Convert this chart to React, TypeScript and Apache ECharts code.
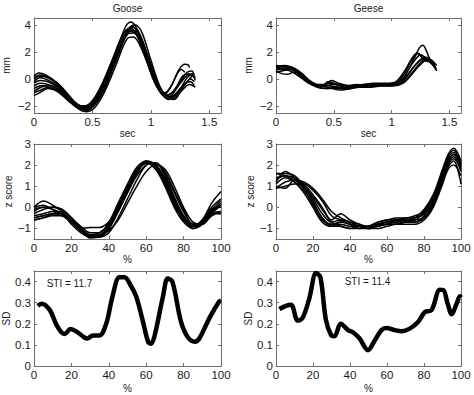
import React, { useEffect, useRef } from "react";
import * as echarts from "echarts";

// ---- Top-left: Goose, mm vs sec ----
const gooseMm1 = [[0,0.2],[0.04,0.45],[0.1,0.3],[0.2,-0.3],[0.3,-1.3],[0.38,-2.0],[0.45,-2.1],[0.52,-1.6],[0.6,-0.2],[0.7,1.9],[0.78,3.8],[0.83,4.2],[0.88,3.7],[0.95,2.0],[1.02,0.2],[1.08,-0.8],[1.12,-1.0],[1.18,-0.4],[1.24,0.7],[1.29,1.1],[1.32,1.05],[1.33,0.85]];
const gooseMm2 = [[0,-0.2],[0.05,0.1],[0.1,0.0],[0.2,-0.5],[0.3,-1.4],[0.4,-2.2],[0.46,-2.3],[0.52,-1.8],[0.6,-0.5],[0.7,1.5],[0.8,3.6],[0.84,3.9],[0.9,3.2],[0.98,1.2],[1.05,-0.4],[1.12,-1.2],[1.18,-1.0],[1.25,-0.2],[1.31,0.5],[1.35,0.6],[1.37,0.3]];
const gooseMm3 = [[0,-0.5],[0.05,-0.3],[0.12,-0.4],[0.2,-0.7],[0.3,-1.5],[0.4,-2.1],[0.45,-2.2],[0.5,-2.0],[0.58,-1.0],[0.68,1.0],[0.78,3.1],[0.83,3.5],[0.88,3.2],[0.96,1.6],[1.04,-0.2],[1.1,-1.1],[1.16,-1.3],[1.22,-0.7],[1.3,0.2],[1.35,0.4],[1.38,0.1]];
const gooseMm4 = [[0,-1.2],[0.05,-1.0],[0.12,-0.7],[0.2,-0.9],[0.3,-1.6],[0.4,-2.3],[0.45,-2.4],[0.52,-2.1],[0.6,-1.0],[0.7,1.0],[0.8,3.0],[0.85,3.1],[0.9,2.6],[1.0,0.6],[1.08,-0.9],[1.15,-1.5],[1.2,-1.4],[1.27,-0.8],[1.33,-0.4],[1.36,-0.5],[1.38,-0.6]];
const gooseMm5 = [[0,-0.9],[0.06,-0.6],[0.12,-0.5],[0.2,-0.8],[0.3,-1.5],[0.38,-2.0],[0.44,-2.0],[0.5,-1.7],[0.6,-0.3],[0.7,1.7],[0.8,3.6],[0.85,3.8],[0.9,3.4],[0.98,1.6],[1.06,-0.4],[1.12,-1.2],[1.17,-1.4],[1.23,-1.0],[1.3,-0.3],[1.34,-0.2],[1.37,-0.5]];
const gooseMm6 = [[0,0.0],[0.05,0.2],[0.12,0.1],[0.2,-0.3],[0.28,-1.0],[0.36,-1.8],[0.42,-2.0],[0.48,-1.8],[0.56,-0.8],[0.66,1.2],[0.76,3.3],[0.82,3.7],[0.87,3.4],[0.94,2.0],[1.02,0.0],[1.08,-0.9],[1.12,-1.1],[1.17,-0.6],[1.22,0.3],[1.26,0.7],[1.29,0.5]];
const gooseMm7 = [[0,-0.7],[0.06,-0.5],[0.14,-0.5],[0.22,-1.0],[0.32,-1.8],[0.4,-2.2],[0.46,-2.2],[0.52,-1.9],[0.6,-0.8],[0.7,1.3],[0.8,3.3],[0.85,3.4],[0.9,3.0],[0.98,1.0],[1.06,-0.7],[1.13,-1.4],[1.2,-1.5],[1.26,-0.8],[1.32,-0.1],[1.36,0.2],[1.38,-0.1]];
const gooseMm8 = [[0,-0.3],[0.05,-0.1],[0.12,-0.2],[0.2,-0.6],[0.3,-1.4],[0.38,-1.9],[0.44,-2.0],[0.5,-1.6],[0.58,-0.4],[0.68,1.6],[0.78,3.5],[0.82,3.7],[0.88,3.3],[0.96,1.4],[1.04,-0.4],[1.1,-1.1],[1.15,-1.2],[1.21,-0.7],[1.27,0.2],[1.32,0.4],[1.35,0.2]];
const gooseMm9 = [[0,-1.0],[0.06,-0.8],[0.12,-0.6],[0.2,-0.9],[0.3,-1.6],[0.38,-2.1],[0.44,-2.3],[0.5,-2.0],[0.58,-0.9],[0.68,1.1],[0.78,3.2],[0.84,3.6],[0.9,3.3],[0.98,1.5],[1.06,-0.3],[1.13,-1.2],[1.18,-1.3],[1.24,-0.8],[1.3,-0.3],[1.34,0.0],[1.37,-0.2]];
const gooseMm10 = [[0,0.1],[0.05,0.3],[0.1,0.2],[0.2,-0.4],[0.3,-1.3],[0.38,-1.9],[0.44,-2.1],[0.5,-1.9],[0.6,-0.6],[0.7,1.4],[0.8,3.5],[0.86,4.0],[0.92,3.5],[1.0,1.4],[1.08,-0.6],[1.14,-1.3],[1.2,-1.2],[1.26,-0.6],[1.31,0.1],[1.35,0.3],[1.37,0.1]];

// ---- Top-right: Geese, mm vs sec ----
const geeseMm1 = [[0,1.0],[0.1,0.9],[0.15,0.8],[0.2,0.5],[0.25,0.0],[0.3,-0.3],[0.4,-0.5],[0.45,-0.2],[0.5,-0.3],[0.6,-0.5],[0.7,-0.5],[0.8,-0.4],[0.9,-0.4],[1.0,-0.4],[1.08,-0.2],[1.14,0.6],[1.2,1.6],[1.24,2.3],[1.27,2.5],[1.3,2.1],[1.33,1.5],[1.36,1.3],[1.39,1.0]];
const geeseMm2 = [[0,0.8],[0.05,0.9],[0.12,0.9],[0.18,0.7],[0.24,0.3],[0.3,-0.2],[0.4,-0.5],[0.5,-0.4],[0.6,-0.6],[0.7,-0.6],[0.8,-0.5],[0.9,-0.4],[1.0,-0.3],[1.05,-0.1],[1.12,0.7],[1.18,1.6],[1.22,1.9],[1.25,1.7],[1.3,1.4],[1.35,1.2],[1.38,0.9]];
const geeseMm3 = [[0,0.6],[0.05,0.4],[0.1,0.35],[0.15,0.5],[0.2,0.4],[0.27,0.0],[0.35,-0.4],[0.45,-0.6],[0.55,-0.8],[0.65,-0.7],[0.75,-0.5],[0.85,-0.5],[0.95,-0.4],[1.05,-0.4],[1.12,0.1],[1.18,0.8],[1.24,1.3],[1.28,1.5],[1.31,1.4],[1.35,1.1],[1.39,0.7]];
const geeseMm4 = [[0,0.9],[0.08,1.0],[0.15,0.8],[0.22,0.3],[0.3,-0.3],[0.38,-0.6],[0.46,-0.3],[0.52,-0.4],[0.6,-0.5],[0.7,-0.4],[0.8,-0.5],[0.9,-0.5],[1.0,-0.5],[1.08,-0.3],[1.15,0.4],[1.21,1.1],[1.26,1.5],[1.3,1.6],[1.33,1.4],[1.37,1.0]];
const geeseMm5 = [[0,0.7],[0.06,0.8],[0.14,0.7],[0.2,0.3],[0.28,-0.2],[0.36,-0.5],[0.45,-0.5],[0.55,-0.6],[0.65,-0.5],[0.75,-0.4],[0.85,-0.3],[0.95,-0.3],[1.03,-0.3],[1.1,0.3],[1.16,1.2],[1.2,1.7],[1.23,1.9],[1.27,1.5],[1.31,1.3],[1.34,1.4],[1.37,1.0]];
const geeseMm6 = [[0,0.5],[0.05,0.6],[0.12,0.7],[0.2,0.4],[0.28,-0.2],[0.36,-0.6],[0.44,-0.7],[0.52,-0.6],[0.62,-0.7],[0.72,-0.6],[0.82,-0.6],[0.92,-0.5],[1.02,-0.5],[1.1,-0.3],[1.17,0.3],[1.23,0.9],[1.28,1.3],[1.32,1.4],[1.35,1.2],[1.38,0.8]];
const geeseMm7 = [[0,0.9],[0.07,0.9],[0.14,0.8],[0.2,0.5],[0.26,0.1],[0.34,-0.4],[0.42,-0.4],[0.48,-0.1],[0.54,-0.3],[0.64,-0.5],[0.74,-0.5],[0.84,-0.4],[0.94,-0.4],[1.04,-0.3],[1.1,0.1],[1.16,0.9],[1.21,1.5],[1.25,1.8],[1.29,1.6],[1.33,1.3],[1.36,1.1]];
const geeseMm8 = [[0,0.7],[0.06,0.7],[0.12,0.6],[0.2,0.2],[0.28,-0.3],[0.36,-0.6],[0.46,-0.7],[0.56,-0.7],[0.66,-0.6],[0.76,-0.6],[0.86,-0.5],[0.96,-0.5],[1.06,-0.4],[1.12,-0.1],[1.18,0.5],[1.24,1.1],[1.29,1.4],[1.32,1.3],[1.36,1.0],[1.39,0.6]];

// ---- Middle-left: Goose, z score vs % ----
const pctA = [0,5,10,15,20,25,30,35,40,45,50,55,60,65,70,75,80,85,90,95,100];
const gooseZ1 = [0.0,0.3,0.1,-0.2,-0.6,-1.0,-1.3,-1.3,-0.9,0.0,0.9,1.7,2.1,2.0,1.3,0.3,-0.5,-0.9,-0.6,0.2,0.75];
const gooseZ2 = [-0.5,-0.4,-0.3,-0.4,-0.7,-1.1,-1.4,-1.4,-1.0,-0.1,0.9,1.7,2.1,2.0,1.4,0.4,-0.4,-0.9,-0.7,-0.1,0.3];
const gooseZ3 = [-0.2,0.0,0.0,-0.1,-0.5,-0.9,-1.2,-1.2,-0.7,0.2,1.1,1.9,2.2,1.9,1.1,0.1,-0.6,-0.9,-0.6,0.0,0.4];
const gooseZ4 = [-0.6,-0.5,-0.4,-0.4,-0.8,-1.2,-1.4,-1.4,-1.2,-0.5,0.4,1.3,2.0,2.1,1.6,0.7,-0.2,-0.8,-0.8,-0.3,-0.2];
const gooseZ5 = [-0.3,-0.1,0.0,-0.1,-0.5,-1.0,-1.3,-1.2,-0.8,0.1,1.0,1.8,2.1,1.8,1.0,0.0,-0.7,-1.0,-0.7,-0.2,0.1];
const gooseZ6 = [-0.5,-0.4,-0.3,-0.3,-0.6,-1.0,-0.95,-0.95,-0.7,-0.1,0.7,1.5,2.0,2.1,1.7,0.8,-0.1,-0.8,-0.8,-0.3,-0.3];
const gooseZ7 = [0.0,0.1,-0.1,-0.3,-0.7,-1.1,-1.35,-1.3,-0.9,0.0,0.9,1.7,2.1,2.0,1.3,0.3,-0.5,-1.0,-0.8,-0.2,0.2];
const gooseZ8 = [-0.4,-0.3,-0.2,-0.3,-0.7,-1.1,-1.3,-1.3,-1.1,-0.6,0.2,1.0,1.7,2.0,1.8,1.0,0.0,-0.7,-0.8,-0.4,-0.2];
const gooseZ9 = [-0.1,0.0,-0.1,-0.3,-0.6,-1.0,-1.3,-1.3,-1.0,-0.2,0.7,1.6,2.1,2.1,1.5,0.5,-0.4,-0.9,-0.7,-0.1,0.0];
const gooseZ10 = [-0.6,-0.5,-0.3,-0.2,-0.5,-1.0,-1.45,-1.4,-1.0,-0.2,0.8,1.7,2.2,2.0,1.2,0.2,-0.6,-1.0,-0.8,-0.3,0.1];

// ---- Middle-right: Geese, z score vs % ----
const pctB = [0,5,10,15,20,25,30,35,40,45,50,55,60,65,70,75,80,85,90,93,96,100];
const geeseZ1 = [1.6,1.6,1.5,1.0,0.3,-0.5,-0.8,-0.8,-0.9,-0.9,-1.0,-0.8,-0.7,-0.6,-0.6,-0.5,-0.1,0.6,1.8,2.5,2.8,2.2];
const geeseZ2 = [1.2,1.7,1.4,0.9,0.1,-0.6,-0.8,-0.7,-0.8,-1.0,-1.0,-0.9,-0.8,-0.7,-0.7,-0.7,-0.4,0.3,1.5,2.3,2.6,2.0];
const geeseZ3 = [0.9,1.2,1.3,1.0,0.5,-0.1,-0.7,-0.9,-1.0,-0.9,-0.9,-0.8,-0.7,-0.6,-0.5,-0.5,-0.3,0.2,1.4,2.1,2.4,1.8];
const geeseZ4 = [1.0,0.9,1.3,1.2,0.9,0.4,-0.2,-0.5,-0.7,-0.9,-1.0,-0.9,-0.8,-0.8,-0.7,-0.6,-0.5,0.1,1.2,1.9,2.2,1.1];
const geeseZ5 = [1.3,1.5,1.4,1.1,0.6,0.0,-0.6,-0.3,-0.6,-0.8,-1.0,-0.8,-0.7,-0.7,-0.6,-0.6,-0.2,0.5,1.7,2.4,2.7,2.0];
const geeseZ6 = [1.1,1.4,1.2,0.8,0.2,-0.5,-0.9,-0.9,-1.0,-1.0,-0.9,-0.7,-0.6,-0.5,-0.5,-0.4,-0.2,0.4,1.6,2.2,2.5,2.1];
const geeseZ7 = [1.4,1.5,1.2,0.7,0.0,-0.7,-0.9,-0.7,-0.8,-0.9,-0.9,-0.8,-0.8,-0.8,-0.7,-0.7,-0.5,0.2,1.3,2.0,2.3,1.7];
const geeseZ8 = [0.9,1.0,1.1,1.1,0.8,0.3,-0.4,-0.6,-0.8,-0.9,-1.0,-1.0,-0.9,-0.8,-0.8,-0.8,-0.6,0.0,1.1,1.8,2.0,1.5];
const geeseZ9 = [1.6,1.5,1.3,0.9,0.4,-0.3,-0.7,-0.6,-0.7,-0.8,-0.9,-0.7,-0.6,-0.6,-0.6,-0.5,-0.3,0.4,1.5,2.2,2.5,1.9];

// ---- Bottom: SD vs % ----
const gooseSdX = [2,4,8.4,12,14.6,16.5,19.5,22.6,27,28.5,31.5,35,38.6,42,45.7,48.4,51.5,54.6,58,61,62.5,64.4,69,71.5,74,78.6,82,86,88.4,93.8,99,100];
const gooseSdY = [0.285,0.295,0.266,0.195,0.16,0.152,0.175,0.164,0.135,0.13,0.145,0.145,0.2,0.33,0.42,0.42,0.385,0.33,0.22,0.115,0.105,0.14,0.33,0.414,0.4,0.21,0.14,0.115,0.13,0.227,0.305,0.31];
const geeseSdX = [1.8,5.4,8.1,11.8,14.5,18,21.7,24,27,29.8,31.6,35,38.9,41.6,45.2,49.7,53.3,57,59.7,64.2,67.8,72.3,76.9,80.5,84,88.6,90.4,92.8,95,97.6,99.5,100];
const geeseSdY = [0.27,0.285,0.29,0.215,0.23,0.32,0.44,0.42,0.217,0.146,0.141,0.2,0.17,0.16,0.13,0.075,0.12,0.17,0.18,0.17,0.165,0.177,0.21,0.256,0.264,0.361,0.36,0.295,0.245,0.295,0.33,0.325];

const gooseSti = "STI = 11.7";
const geeseSti = "STI = 11.4";

const secTicks = [0, 0.5, 1, 1.5];
const mmTicks = [-2, 0, 2, 4];
const pctTicks = [0, 20, 40, 60, 80, 100];
const zTicks = [-1, 0, 1, 2, 3];
const sdTicks = [0, 0.1, 0.2, 0.3, 0.4];

const FONT = "Liberation Sans, Arial, Helvetica, sans-serif";
const AXIS_GRAY = "#6e6e6e";
const TEXT = "#1a1a1a";

const zip = (xs: number[], ys: number[]) => xs.map((x, i) => [x, ys[i]]);
const fmt = (v: number) => String(v).replace("-", "\u2212");

export default function App() {
  const ref = useRef<HTMLDivElement>(null);
  useEffect(() => {
    if (!ref.current) return;
    const chart = echarts.init(ref.current, undefined, { renderer: "svg" });

    const grids = [
      { left: 34, top: 18, width: 187, height: 95 },
      { left: 276, top: 18, width: 185, height: 95 },
      { left: 34, top: 144, width: 187, height: 95 },
      { left: 276, top: 144, width: 185, height: 95 },
      { left: 34, top: 271, width: 187, height: 95 },
      { left: 276, top: 271, width: 185, height: 95 },
    ];
    const specs = [
      { xr: [0, 1.6], xt: secTicks, yr: [-2.5, 4.5], yt: mmTicks, xn: "sec", yn: "mm", xg: 10, yg: 23 },
      { xr: [0, 1.6], xt: secTicks, yr: [-2.5, 4.5], yt: mmTicks, xn: "sec", yn: "mm", xg: 10, yg: 23 },
      { xr: [0, 100], xt: pctTicks, yr: [-1.5, 3], yt: zTicks, xn: "%", yn: "z score", xg: 14, yg: 20 },
      { xr: [0, 100], xt: pctTicks, yr: [-1.5, 3], yt: zTicks, xn: "%", yn: "z score", xg: 14, yg: 20 },
      { xr: [0, 100], xt: pctTicks, yr: [0, 0.45], yt: sdTicks, xn: "%", yn: "SD", xg: 17, yg: 20 },
      { xr: [0, 100], xt: pctTicks, yr: [0, 0.45], yt: sdTicks, xn: "%", yn: "SD", xg: 17, yg: 20 },
    ];
    const lineStyle = { color: AXIS_GRAY, width: 1 };
    const xAxis: any[] = [];
    const yAxis: any[] = [];
    specs.forEach((s, i) => {
      const base = (min: number, max: number, ticks: number[]) => ({
        type: "value",
        gridIndex: i,
        min,
        max,
        splitLine: { show: false },
        axisLine: { show: true, onZero: false, lineStyle },
        axisTick: { show: true, inside: true, length: 3, customValues: ticks, lineStyle },
      });
      xAxis.push({
        ...base(s.xr[0], s.xr[1], s.xt),
        position: "bottom",
        axisLabel: { show: true, customValues: s.xt, margin: 3, fontSize: 11.5, color: TEXT, fontFamily: FONT, formatter: fmt },
        name: s.xn,
        nameLocation: "middle",
        nameGap: s.xg,
        nameTextStyle: { fontSize: 10, color: TEXT, fontFamily: FONT },
      });
      xAxis.push({ ...base(s.xr[0], s.xr[1], s.xt), position: "top", axisLabel: { show: false } });
      yAxis.push({
        ...base(s.yr[0], s.yr[1], s.yt),
        position: "left",
        axisLabel: { show: true, customValues: s.yt, margin: 3, fontSize: 11.5, color: TEXT, fontFamily: FONT, formatter: fmt },
        name: s.yn,
        nameLocation: "middle",
        nameGap: s.yg,
        nameTextStyle: { fontSize: 10, color: TEXT, fontFamily: FONT },
      });
      yAxis.push({ ...base(s.yr[0], s.yr[1], s.yt), position: "right", axisLabel: { show: false } });
    });

    const series: any[] = [];
    const addLines = (g: number, list: number[][][], width: number) => {
      list.forEach((d) =>
        series.push({
          type: "line",
          xAxisIndex: 2 * g,
          yAxisIndex: 2 * g,
          data: d,
          showSymbol: false,
          smooth: 0.35,
          silent: true,
          lineStyle: { color: "#000", width },
        })
      );
    };
    addLines(0, [gooseMm1, gooseMm2, gooseMm3, gooseMm4, gooseMm5, gooseMm6, gooseMm7, gooseMm8, gooseMm9, gooseMm10], 1.5);
    addLines(1, [geeseMm1, geeseMm2, geeseMm3, geeseMm4, geeseMm5, geeseMm6, geeseMm7, geeseMm8], 1.5);
    addLines(2, [gooseZ1, gooseZ2, gooseZ3, gooseZ4, gooseZ5, gooseZ6, gooseZ7, gooseZ8, gooseZ9, gooseZ10].map((ys) => zip(pctA, ys)), 1.5);
    addLines(3, [geeseZ1, geeseZ2, geeseZ3, geeseZ4, geeseZ5, geeseZ6, geeseZ7, geeseZ8, geeseZ9].map((ys) => zip(pctB, ys)), 1.5);
    addLines(4, [zip(gooseSdX, gooseSdY)], 4.5);
    addLines(5, [zip(geeseSdX, geeseSdY)], 4.5);

    const txt = (x: number, y: number, text: string, size: number) => ({
      type: "text",
      x,
      y,
      style: { text, fontSize: size, fill: TEXT, fontFamily: FONT, textAlign: "center", textVerticalAlign: "middle" },
    });

    chart.setOption({
      animation: false,
      backgroundColor: "#fff",
      grid: grids,
      xAxis,
      yAxis,
      series,
      graphic: [
        txt(127.5, 8, "Goose", 10),
        txt(368.5, 8, "Geese", 10),
        txt(69.5, 283, gooseSti, 10),
        txt(367.5, 281, geeseSti, 10),
      ],
    });
    return () => chart.dispose();
  }, []);
  return <div ref={ref} style={{ position: "fixed", left: 0, top: 0, width: 474, height: 395 }} />;
}
